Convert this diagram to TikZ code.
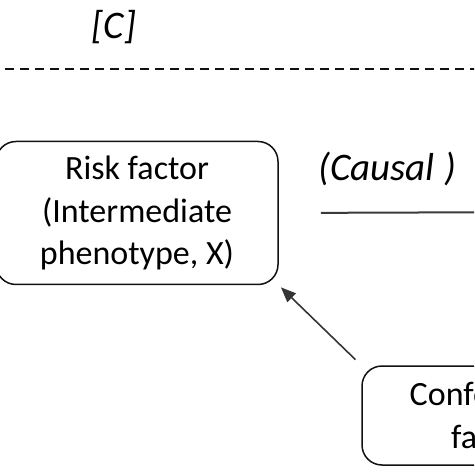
\documentclass[tikz,border=0pt]{standalone}
\usepackage{fontspec}
\setmainfont{Carlito}
\usetikzlibrary{arrows.meta,calc}
\definecolor{ink}{HTML}{111111}
\definecolor{rule}{HTML}{3A3A3A}
\tikzset{
  basebox/.style={draw=ink,fill=white,rounded corners=10pt,align=center,line width=0.75pt,
    font=\fontsize{17}{21.3}\selectfont,inner sep=0pt},
  label/.style={font=\fontsize{19.5}{23}\selectfont\itshape,inner sep=0pt},
  arrow/.style={-{Triangle[length=7.5pt,width=6pt]},line width=0.8pt,draw=ink!85},
  sep/.style={line width=1pt,draw=ink,dash pattern=on 4.5pt off 3pt},
  link/.style={line width=1pt,draw=rule}
}
\begin{document}
\begin{tikzpicture}[x=0.5pt,y=-0.5pt]
  \useasboundingbox (0,0) rectangle (474,474);
  \clip (0,0) rectangle (474,474);

  \node[label] (panel) at (114,27) {[C]};
  \coordinate (sepl) at (5,69);
  \coordinate (sepr) at (490,69);
  \draw[sep] (sepl) -- (sepr);

  \node[basebox,minimum width=141pt,minimum height=71.5pt] (risk) at (137,213)
    {Risk factor\\(Intermediate\\phenotype, X)};
  \node[basebox,minimum width=136pt,minimum height=49.5pt] (conf) at (498,415.5)
    {Confounding\\factors};
  \coordinate (outcome) at (560,212);

  \draw[link,shorten <=21pt] (risk.east) -- (outcome);
  \node[label,anchor=west] (causal) at (318,169) {(Causal\hspace{0.25em})};

  \draw[arrow,shorten <=4pt,shorten >=1.5pt] (conf.north west) -- (risk.south east);
\end{tikzpicture}
\end{document}
